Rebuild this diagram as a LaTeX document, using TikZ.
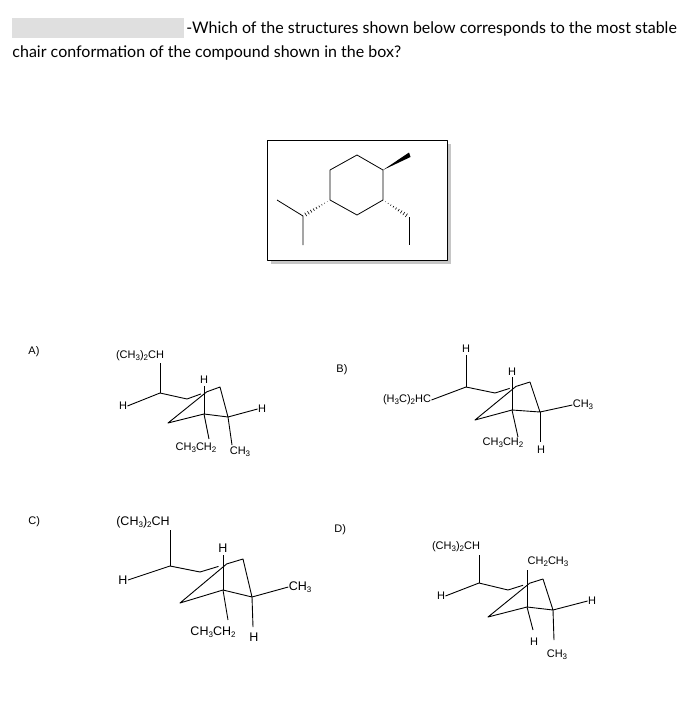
\documentclass[tikz,border=0pt]{standalone}
\usepackage{fontspec}
\setmainfont{Lato}
\newfontfamily\chemfont{Liberation Sans}
\newcommand\sbs[1]{\raisebox{-0.35ex}{\fontsize{8}{9}\selectfont #1}}
\usetikzlibrary{calc}
\begin{document}
\begin{tikzpicture}[x=1pt,y=-1pt,line width=0.9pt,line join=round,
  lbl/.style={font=\chemfont\fontsize{11}{13}\selectfont,inner sep=0pt},
  q/.style={font=\fontsize{16}{18}\selectfont,inner sep=0pt,anchor=base west}]
\useasboundingbox (0,0) rectangle (695,710);
% header
\fill[gray!25] (12,18) rectangle (184,38);
\node[q] (q1) at (186,33) {-Which of the structures shown below corresponds to the most stable};
\node[q] (q2) at (12,57) {chair conformation of the compound shown in the box?};
% box
\fill[gray!45] (271,144) rectangle (451,264);
\draw[fill=white,line width=0.8pt] (267,140) rectangle (447,260);
\begin{scope}[line width=0.8pt]
\coordinate (r1) at (357,155); \coordinate (r2) at (383,170); \coordinate (r3) at (383,200);
\coordinate (r4) at (357,215); \coordinate (r5) at (330,200); \coordinate (r6) at (330,170);
\draw (r1)--(r2)--(r3)--(r4)--(r5)--(r6)--cycle;
\coordinate (w1) at (409,155);
\fill ($(w1)+(0,-2.5)$) -- (r2) -- ($(w1)+(1.5,2)$) -- cycle;
\coordinate (e1) at (409,217); \coordinate (e2) at (409,245);
\foreach \t in {0.1,0.2,...,0.95} \draw[line width=0.6pt] ($(r3)!\t!(e1)!2.2*\t pt!90:(e1)$) -- ($(r3)!\t!(e1)!-2.2*\t pt!90:(e1)$);
\draw (e1)--(e2);
\coordinate (i1) at (303,216); \coordinate (i2) at (277,200); \coordinate (i3) at (303,245);
\foreach \t in {0.1,0.2,...,0.95} \draw[line width=0.6pt] ($(r5)!\t!(i1)!2.2*\t pt!90:(i1)$) -- ($(r5)!\t!(i1)!-2.2*\t pt!90:(i1)$);
\draw (i2)--(i1)--(i3);
\end{scope}
% labels
\node[lbl,anchor=west] (la) at (28,352) {A)};
\node[lbl,anchor=west] (lb) at (336,370) {B)};
\node[lbl,anchor=west] (lc) at (28,522) {C)};
\node[lbl,anchor=west] (ld) at (334,530) {D)};
% chair A
\begin{scope}
\coordinate (a1) at (160,393); \coordinate (a2) at (187,399); \coordinate (a3) at (220,387);
\coordinate (a4) at (228,417); \coordinate (a5) at (204,414); \coordinate (a6) at (168,423);
\draw (a1)--(a2)--($(a2)!0.42!(a3)$); \draw ($(a2)!0.6!(a3)$)--(a3)--(a4)--(a5)--(a6)--cycle;
\node[lbl] (aiso) at (140,356) {(CH\sbs{3})\sbs{2}CH};
\node[lbl] (ah1) at (123,406) {H};
\node[lbl] (ah5) at (204,380) {H};
\node[lbl] (aet) at (196,448) {CH\sbs{3}CH\sbs{2}};
\node[lbl] (ah4) at (262,409) {H};
\node[lbl] (ame) at (240,452) {CH\sbs{3}};
\draw (a1)--(160,363); \draw (a1)--(ah1.east); \draw (a5)--(204,386);
\draw (a5)--(209,439); \draw (a4)--(ah4.west); \draw (a4)--(232,445);
\end{scope}
% chair B
\begin{scope}
\coordinate (b1) at (466,387); \coordinate (b2) at (495,393); \coordinate (b3) at (530,382);
\coordinate (b4) at (540,412); \coordinate (b5) at (512,410); \coordinate (b6) at (475,420);
\draw (b1)--(b2)--($(b2)!0.42!(b3)$); \draw ($(b2)!0.6!(b3)$)--(b3)--(b4)--(b5)--(b6)--cycle;
\node[lbl] (bh1) at (466,349) {H};
\node[lbl] (biso) at (407,400) {(H\sbs{3}C)\sbs{2}HC};
\node[lbl] (bh5) at (512,372) {H};
\node[lbl] (bet) at (503,443) {CH\sbs{3}CH\sbs{2}};
\node[lbl] (bme) at (583,405) {CH\sbs{3}};
\node[lbl] (bh4) at (541,450) {H};
\draw (b1)--(466,355); \draw (b1)--(biso.east); \draw (b5)--(512,377);
\draw (b5)--(518,437); \draw (b4)--(bme.west); \draw (b4)--(540,442);
\end{scope}
% chair C
\begin{scope}
\coordinate (c1) at (170,566); \coordinate (c2) at (200,572); \coordinate (c3) at (243,559);
\coordinate (c4) at (252,597); \coordinate (c5) at (223,590); \coordinate (c6) at (180,603);
\draw (c1)--(c2)--($(c2)!0.43!(c3)$); \draw ($(c2)!0.62!(c3)$)--(c3)--(c4)--(c5)--(c6)--cycle;
\node[lbl,font=\chemfont\fontsize{12.5}{14}\selectfont] (ciso) at (143,522) {(CH\sbs{3})\sbs{2}CH};
\node[lbl,font=\chemfont\fontsize{12.5}{14}\selectfont] (ch1) at (123,580) {H};
\node[lbl,font=\chemfont\fontsize{12.5}{14}\selectfont] (ch5) at (223,548) {H};
\node[lbl,font=\chemfont\fontsize{12.5}{14}\selectfont] (cet) at (213,632) {CH\sbs{3}CH\sbs{2}};
\node[lbl,font=\chemfont\fontsize{12.5}{14}\selectfont] (cme) at (300,587) {CH\sbs{3}};
\node[lbl,font=\chemfont\fontsize{12.5}{14}\selectfont] (ch4) at (254,637) {H};
\draw (c1)--(170,530); \draw (c1)--(ch1.east); \draw (c5)--(223,555);
\draw (c5)--(228,620); \draw (c4)--(cme.west); \draw (c4)--(253,627);
\end{scope}
% chair D
\begin{scope}
\coordinate (d1) at (479,583); \coordinate (d2) at (508,590); \coordinate (d3) at (543,579);
\coordinate (d4) at (553,610); \coordinate (d5) at (527,607); \coordinate (d6) at (488,617);
\draw (d1)--(d2)--($(d2)!0.43!(d3)$); \draw ($(d2)!0.62!(d3)$)--(d3)--(d4)--(d5)--(d6)--cycle;
\node[lbl] (diso) at (456,547) {(CH\sbs{3})\sbs{2}CH};
\node[lbl] (dh1) at (441,596) {H};
\node[lbl] (det) at (548,562) {CH\sbs{2}CH\sbs{3}};
\node[lbl] (dh5) at (534,642) {H};
\node[lbl] (dh4) at (592,601) {H};
\node[lbl] (dme) at (557,655) {CH\sbs{3}};
\draw (d1)--(479,555); \draw (d1)--(dh1.east); \draw (d5)--(527,570);
\draw (d5)--(533,630); \draw (d4)--(dh4.west); \draw (d4)--(554,640);
\end{scope}
\end{tikzpicture}
\end{document}
